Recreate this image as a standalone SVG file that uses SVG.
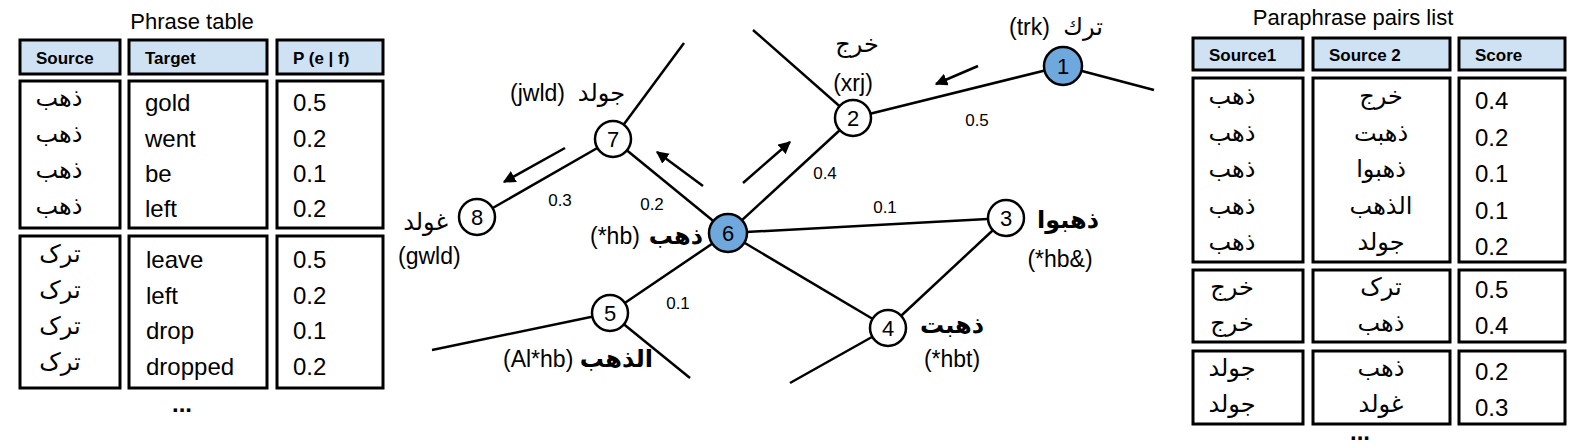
<svg xmlns="http://www.w3.org/2000/svg" width="1578" height="447" viewBox="0 0 1578 447">
<style>
text{font-family:"Liberation Sans","DejaVu Sans",Arial,sans-serif;fill:#000}
.hd{fill:#cfe2f3;stroke:#000;stroke-width:3}
.bx{fill:#fff;stroke:#000;stroke-width:3}
.ht{font-size:17px;font-weight:bold}
.cell{font-size:24px}
.ar{font-size:24px;font-family:"DejaVu Sans","Noto Sans",sans-serif}
.arb{font-size:24px;font-weight:bold;font-family:"DejaVu Sans","Noto Sans",sans-serif}
.edge{stroke:#000;stroke-width:2.5;fill:none}
.node{fill:#fff;stroke:#000;stroke-width:2.5}
.sel{fill:#6fa8dc}
.nl{font-size:22px;text-anchor:middle}
.el{font-size:17px;text-anchor:middle}
.lab{font-size:23px}
</style>
<defs>
<marker id="ah" viewBox="0 0 10 10" refX="9" refY="5" markerWidth="5" markerHeight="5" orient="auto"><path d="M0,0L10,5L0,10z" fill="#000"/></marker>
</defs>

<g id="phrase-table">
<text x="192" y="29" font-size="22" text-anchor="middle">Phrase table</text>
<rect class="hd" x="20" y="40" width="100" height="34"/>
<rect class="hd" x="129" y="40" width="138" height="34"/>
<rect class="hd" x="277" y="40" width="106" height="34"/>
<text class="ht" x="36" y="64">Source</text>
<text class="ht" x="145" y="64">Target</text>
<text class="ht" x="293" y="64">P (e | f)</text>
<rect class="bx" x="20" y="81" width="100" height="147"/>
<rect class="bx" x="129" y="81" width="138" height="147"/>
<rect class="bx" x="277" y="81" width="106" height="147"/>
<rect class="bx" x="20" y="236" width="100" height="152"/>
<rect class="bx" x="129" y="236" width="138" height="152"/>
<rect class="bx" x="277" y="236" width="106" height="152"/>
<g class="ar" text-anchor="middle">
<text x="59" y="106">ذهب</text><text x="59" y="142">ذهب</text><text x="59" y="178">ذهب</text><text x="59" y="214">ذهب</text>
<text x="60" y="262">ترک</text><text x="60" y="298">ترک</text><text x="60" y="334">ترک</text><text x="60" y="370">ترک</text>
</g>
<g class="cell">
<text x="145" y="111">gold</text><text x="145" y="147">went</text><text x="145" y="182">be</text><text x="145" y="217">left</text>
<text x="146" y="268">leave</text><text x="146" y="304">left</text><text x="146" y="339">drop</text><text x="146" y="375">dropped</text>
<text x="293" y="111">0.5</text><text x="293" y="147">0.2</text><text x="293" y="182">0.1</text><text x="293" y="217">0.2</text>
<text x="293" y="268">0.5</text><text x="293" y="304">0.2</text><text x="293" y="339">0.1</text><text x="293" y="375">0.2</text>
</g>
<text x="182" y="412" font-size="24" font-weight="bold" text-anchor="middle">...</text>
</g>

<g id="connectors">
<line class="edge" x1="1063" y1="66" x2="1154" y2="90"/>
<line class="edge" x1="1063" y1="66" x2="853" y2="118"/>
<line class="edge" x1="753" y1="30" x2="853" y2="118"/>
<line class="edge" x1="728" y1="233" x2="853" y2="118"/>
<line class="edge" x1="728" y1="233" x2="1006" y2="218"/>
<line class="edge" x1="728" y1="233" x2="888" y2="328"/>
<line class="edge" x1="1006" y1="218" x2="888" y2="328"/>
<line class="edge" x1="888" y1="328" x2="790" y2="383"/>
<line class="edge" x1="728" y1="233" x2="613" y2="139"/>
<line class="edge" x1="613" y1="139" x2="684" y2="43"/>
<line class="edge" x1="613" y1="139" x2="477" y2="217"/>
<line class="edge" x1="728" y1="233" x2="610" y2="313"/>
<line class="edge" x1="610" y1="313" x2="432" y2="350"/>
<line class="edge" x1="610" y1="313" x2="690" y2="378"/>
<line class="edge" x1="978" y1="66" x2="936" y2="84" marker-end="url(#ah)"/>
<line class="edge" x1="743" y1="183" x2="790" y2="142" marker-end="url(#ah)"/>
<line class="edge" x1="703" y1="186" x2="657" y2="152" marker-end="url(#ah)"/>
<line class="edge" x1="565" y1="148" x2="504" y2="182" marker-end="url(#ah)"/>
<text class="el" x="977" y="126">0.5</text>
<text class="el" x="825" y="179">0.4</text>
<text class="el" x="885" y="213">0.1</text>
<text class="el" x="652" y="210">0.2</text>
<text class="el" x="560" y="206">0.3</text>
<text class="el" x="678" y="309">0.1</text>
</g>

<g id="node1"><circle class="node sel" cx="1063" cy="66" r="19"/><text class="nl" x="1063" y="74">1</text>
<text class="lab" x="1009" y="35">(trk)</text><text class="ar" x="1103" y="35" text-anchor="end">ترك</text></g>
<g id="node2"><circle class="node" cx="853" cy="118" r="18"/><text class="nl" x="853" y="126">2</text>
<text class="ar" x="857" y="52" text-anchor="middle">خرج</text><text class="lab" x="853" y="91" text-anchor="middle">(xrj)</text></g>
<g id="node3"><circle class="node" cx="1006" cy="218" r="18"/><text class="nl" x="1006" y="226">3</text>
<text class="arb" x="1068" y="228" text-anchor="middle">ذهبوا</text><text class="lab" x="1060" y="267" text-anchor="middle">(*hb&amp;)</text></g>
<g id="node4"><circle class="node" cx="888" cy="328" r="18"/><text class="nl" x="888" y="336">4</text>
<text class="arb" x="952" y="333" text-anchor="middle">ذهبت</text><text class="lab" x="952" y="367" text-anchor="middle">(*hbt)</text></g>
<g id="node5"><circle class="node" cx="610" cy="313" r="18"/><text class="nl" x="610" y="321">5</text>
<text class="lab" x="503" y="367">(Al*hb)</text><text class="arb" x="653" y="367" text-anchor="end">الذهب</text></g>
<g id="node6"><circle class="node sel" cx="728" cy="233" r="19"/><text class="nl" x="728" y="241">6</text>
<text class="lab" x="590" y="244">(*hb)</text><text class="arb" x="703" y="244" text-anchor="end">ذهب</text></g>
<g id="node7"><circle class="node" cx="613" cy="139" r="18"/><text class="nl" x="613" y="147">7</text>
<text class="lab" x="510" y="101">(jwld)</text><text class="ar" x="625" y="101" text-anchor="end">جولد</text></g>
<g id="node8"><circle class="node" cx="477" cy="217" r="18"/><text class="nl" x="477" y="225">8</text>
<text class="ar" x="448" y="230" text-anchor="end">غولد</text><text class="lab" x="398" y="264">(gwld)</text></g>

<g id="paraphrase-table">
<text x="1353" y="25" font-size="22" text-anchor="middle">Paraphrase pairs list</text>
<rect class="hd" x="1193" y="38" width="110" height="32"/>
<rect class="hd" x="1313" y="38" width="137" height="32"/>
<rect class="hd" x="1459" y="38" width="106" height="32"/>
<text class="ht" x="1209" y="61">Source1</text>
<text class="ht" x="1329" y="61">Source 2</text>
<text class="ht" x="1475" y="61">Score</text>
<rect class="bx" x="1193" y="78" width="110" height="184"/>
<rect class="bx" x="1313" y="78" width="137" height="184"/>
<rect class="bx" x="1459" y="78" width="106" height="184"/>
<rect class="bx" x="1193" y="270" width="110" height="72"/>
<rect class="bx" x="1313" y="270" width="137" height="72"/>
<rect class="bx" x="1459" y="270" width="106" height="72"/>
<rect class="bx" x="1193" y="351" width="110" height="73"/>
<rect class="bx" x="1313" y="351" width="137" height="73"/>
<rect class="bx" x="1459" y="351" width="106" height="73"/>
<g class="ar" text-anchor="middle">
<text x="1232" y="104">ذهب</text><text x="1232" y="141">ذهب</text><text x="1232" y="177">ذهب</text><text x="1232" y="214">ذهب</text><text x="1232" y="250">ذهب</text>
<text x="1232" y="295">خرج</text><text x="1232" y="331">خرج</text>
<text x="1232" y="376">جولد</text><text x="1232" y="412">جولد</text>
<text x="1381" y="104">خرج</text><text x="1381" y="141">ذهبت</text><text x="1381" y="177">ذهبوا</text><text x="1381" y="214">الذهب</text><text x="1381" y="250">جولد</text>
<text x="1381" y="295">ترک</text><text x="1381" y="331">ذهب</text>
<text x="1381" y="376">ذهب</text><text x="1381" y="412">غولد</text>
</g>
<g class="cell">
<text x="1475" y="109">0.4</text><text x="1475" y="146">0.2</text><text x="1475" y="182">0.1</text><text x="1475" y="219">0.1</text><text x="1475" y="255">0.2</text>
<text x="1475" y="298">0.5</text><text x="1475" y="334">0.4</text>
<text x="1475" y="380">0.2</text><text x="1475" y="416">0.3</text>
</g>
<text x="1360" y="440" font-size="24" font-weight="bold" text-anchor="middle">...</text>
</g>
</svg>
